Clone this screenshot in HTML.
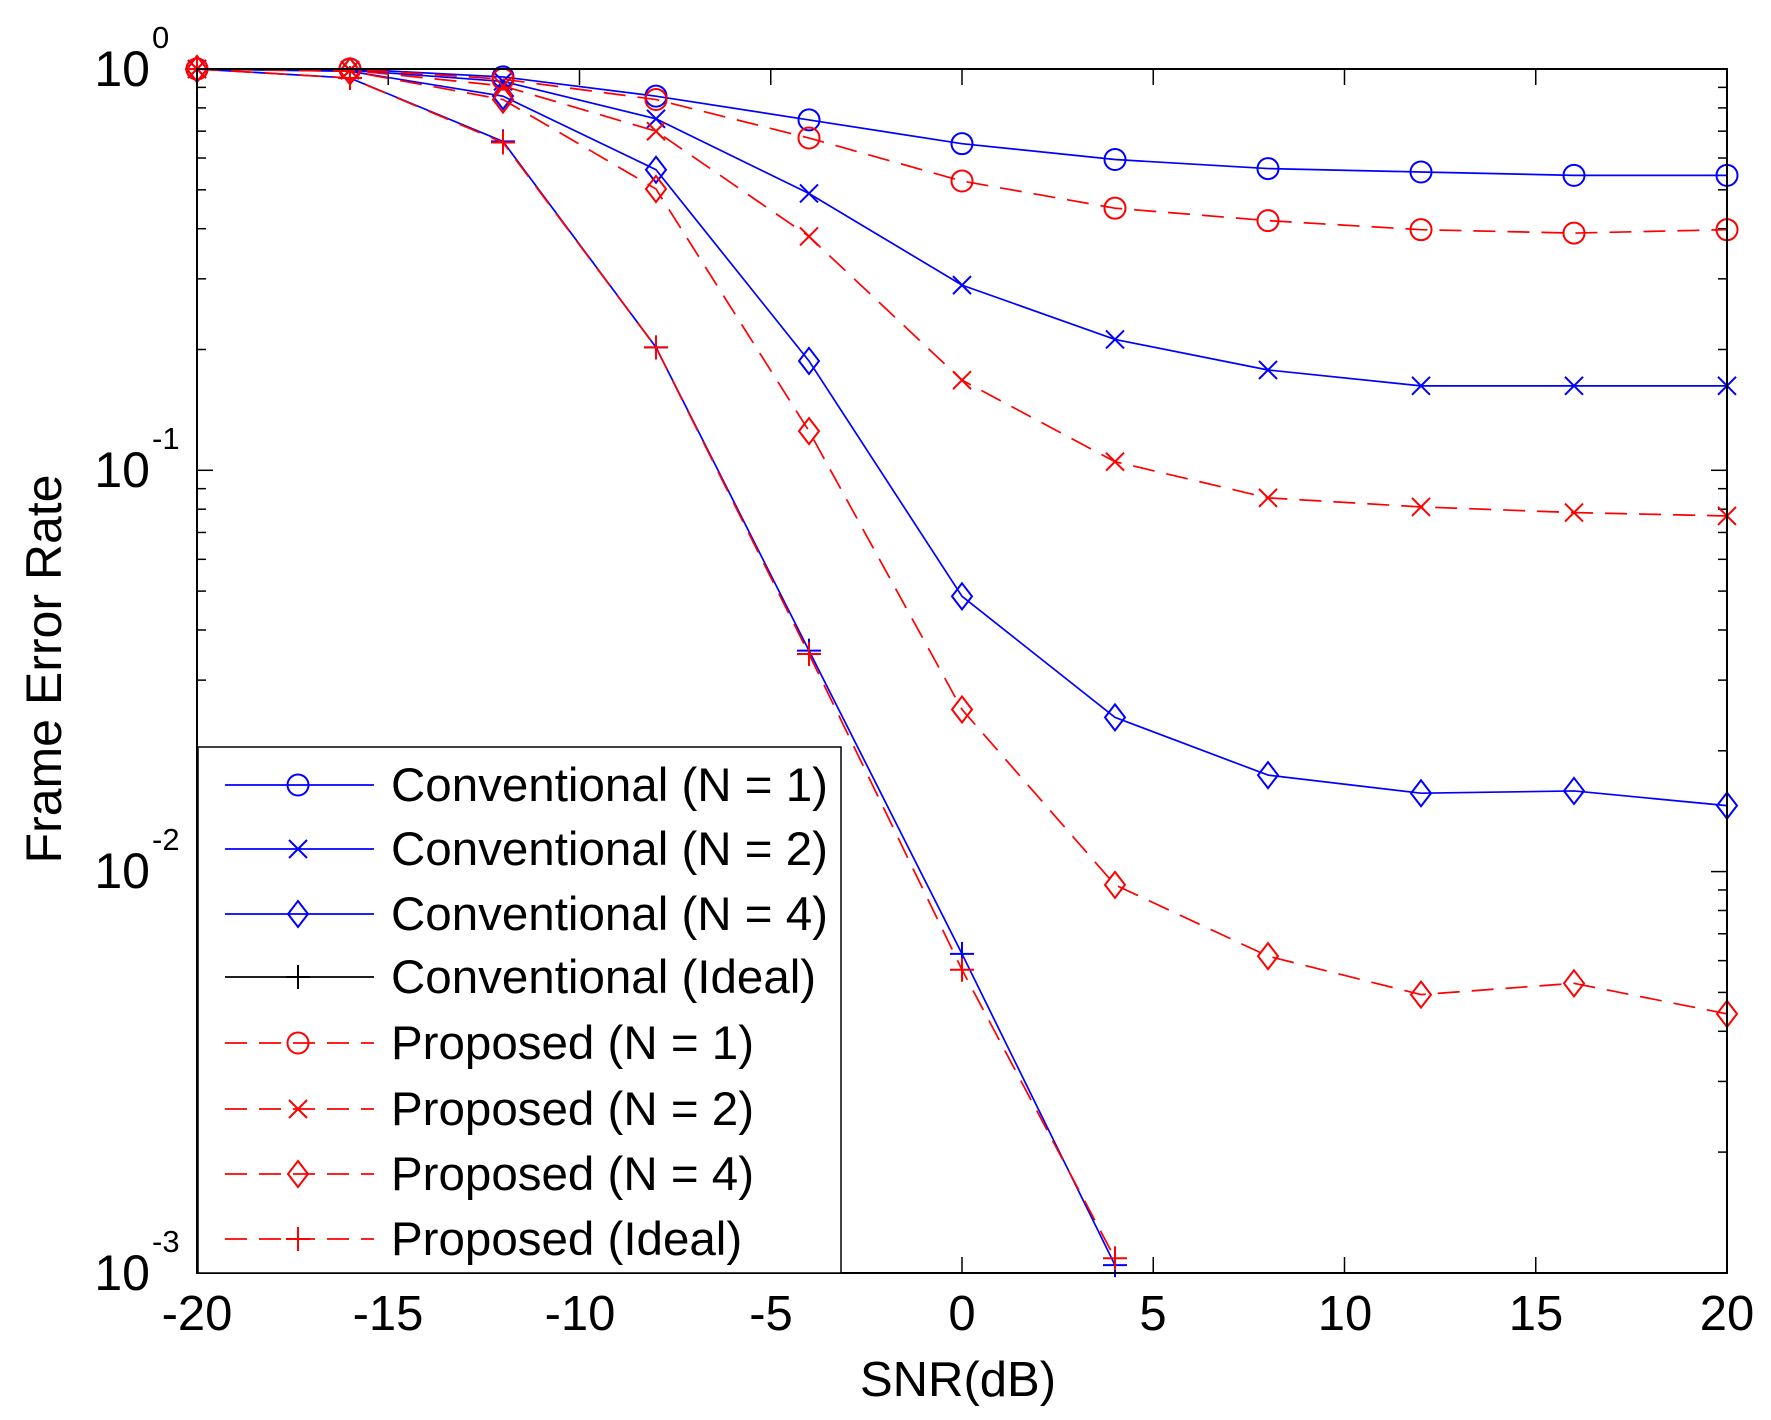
<!DOCTYPE html>
<html><head><meta charset="utf-8"><style>
html,body{margin:0;padding:0;background:#fff;}
svg{display:block;font-family:"Liberation Sans",Arial,sans-serif;}
</style></head><body>
<svg id="s" width="1771" height="1420" viewBox="0 0 1771 1420" xmlns="http://www.w3.org/2000/svg">
<rect width="1771" height="1420" fill="#fff"/>
<g id="ticks" stroke="#000" stroke-width="1.5"></g>
<g id="series"></g>
<rect x="197" y="69" width="1530" height="1204" fill="none" stroke="#000" stroke-width="2"/>
<g font-size="49" fill="#000" text-anchor="middle">
<text x="197" y="1330">-20</text><text x="388" y="1330">-15</text><text x="580" y="1330">-10</text>
<text x="771" y="1330">-5</text><text x="962" y="1330">0</text><text x="1153" y="1330">5</text>
<text x="1345" y="1330">10</text><text x="1536" y="1330">15</text><text x="1727" y="1330">20</text>
<text x="958" y="1396">SNR(dB)</text>
<text transform="translate(61,669) rotate(-90)" font-size="50">Frame Error Rate</text>
</g>
<g font-size="50" fill="#000" text-anchor="end">
<text x="150" y="86">10</text><text x="150" y="487">10</text><text x="150" y="888">10</text><text x="150" y="1290">10</text>
</g>
<g font-size="31" fill="#000">
<text x="152" y="48">0</text><text x="152" y="449">-1</text><text x="152" y="850">-2</text><text x="152" y="1252">-3</text>
</g>
<rect x="198" y="747" width="643" height="526" fill="#fff" stroke="#000" stroke-width="1.5"/>
<g id="legend" font-size="47.5" fill="#000"></g>
</svg>
<script>
const NS="http://www.w3.org/2000/svg";
function el(p,t,a){const e=document.createElementNS(NS,t);for(const k in a)e.setAttribute(k,a[k]);p.appendChild(e);return e;}
const X=v=>197+(v+20)*38.25;
const Yv=l=>69-l*401.3;
const Ys=ys=>69+(ys-61)*(1204/1064);
const tk=document.getElementById('ticks');
for(let v=-20;v<=20;v+=5){const x=X(v);el(tk,'line',{x1:x,y1:1273,x2:x,y2:1257});el(tk,'line',{x1:x,y1:69,x2:x,y2:85});}
for(let d=0;d>-3;d--){for(let m=1;m<10;m++){const y=Yv(d-1+Math.log10(m));const L=m==1?16:9;
el(tk,'line',{x1:197,y1:y,x2:197+L,y2:y});el(tk,'line',{x1:1727,y1:y,x2:1727-L,y2:y});}}
const xs=[-20,-16,-12,-8,-4,0,4,8,12,16,20];
const S=[
{c:'#0000ff',d:false,m:'o',y:[61,61,68,85,106,127,141,149,152,155,155]},
{c:'#0000ff',d:false,m:'x',y:[61,62,72,105,171,252,300,327,341,341,341]},
{c:'#0000ff',d:false,m:'d',y:[61,63,85,150,319,527,634,685,701,699,712]},
{c:'#0000ff',d:false,m:'+',y:[61,69,125,307,575,843,1118]},
{c:'#ff0000',d:true,m:'o',y:[61,61,70,88,122,160,184,195,203,206,203]},
{c:'#ff0000',d:true,m:'x',y:[61,62,76,116,209,336,408,440,448,453,456]},
{c:'#ff0000',d:true,m:'d',y:[61,63,88,167,381,627,782,845,879,869,896]},
{c:'#ff0000',d:true,m:'+',y:[61,69,126,307,578,857,1112]}];
function mark(g,m,x,y,c){const a={fill:'none',stroke:c,'stroke-width':2};
if(m=='o')el(g,'circle',Object.assign({cx:x,cy:y,r:10.5},a));
else if(m=='x')el(g,'path',Object.assign({d:`M${x-9} ${y-9}L${x+9} ${y+9}M${x-9} ${y+9}L${x+9} ${y-9}`},a));
else if(m=='d')el(g,'path',Object.assign({d:`M${x} ${y-13}L${x+10} ${y}L${x} ${y+13}L${x-10} ${y}Z`},a));
else el(g,'path',Object.assign({d:`M${x-12} ${y}L${x+12} ${y}M${x} ${y-12}L${x} ${y+12}`},a));}
const sg=document.getElementById('series');
for(const i of [0,1,2,3,4,5,6,7]){const s=S[i];const pts=s.y.map((v,j)=>[X(xs[j]),Ys(v)]);
const a={fill:'none',stroke:s.c,'stroke-width':1.7,points:pts.map(p=>p.join(',')).join(' ')};
if(s.d)a['stroke-dasharray']='22 12';el(sg,'polyline',a);
pts.forEach(p=>mark(sg,s.m,p[0],p[1],s.c));}
const lg=document.getElementById('legend');
const names=['Conventional (N = 1)','Conventional (N = 2)','Conventional (N = 4)','Conventional (Ideal)','Proposed (N = 1)','Proposed (N = 2)','Proposed (N = 4)','Proposed (Ideal)'];
const ly=[785,849,914,977,1043,1109,1174,1239];
const lc=['#0000ff','#0000ff','#0000ff','#000','#ff0000','#ff0000','#ff0000','#ff0000'];
for(let i=0;i<8;i++){const s=S[i];const a={x1:225,x2:374,y1:ly[i],y2:ly[i],stroke:lc[i],'stroke-width':1.7};
if(s.d)a['stroke-dasharray']='22 12';el(lg,'line',a);mark(lg,s.m,298,ly[i],lc[i]);
const t=el(lg,'text',{x:391,y:ly[i]+16});t.textContent=names[i];}
</script>
</body></html>
